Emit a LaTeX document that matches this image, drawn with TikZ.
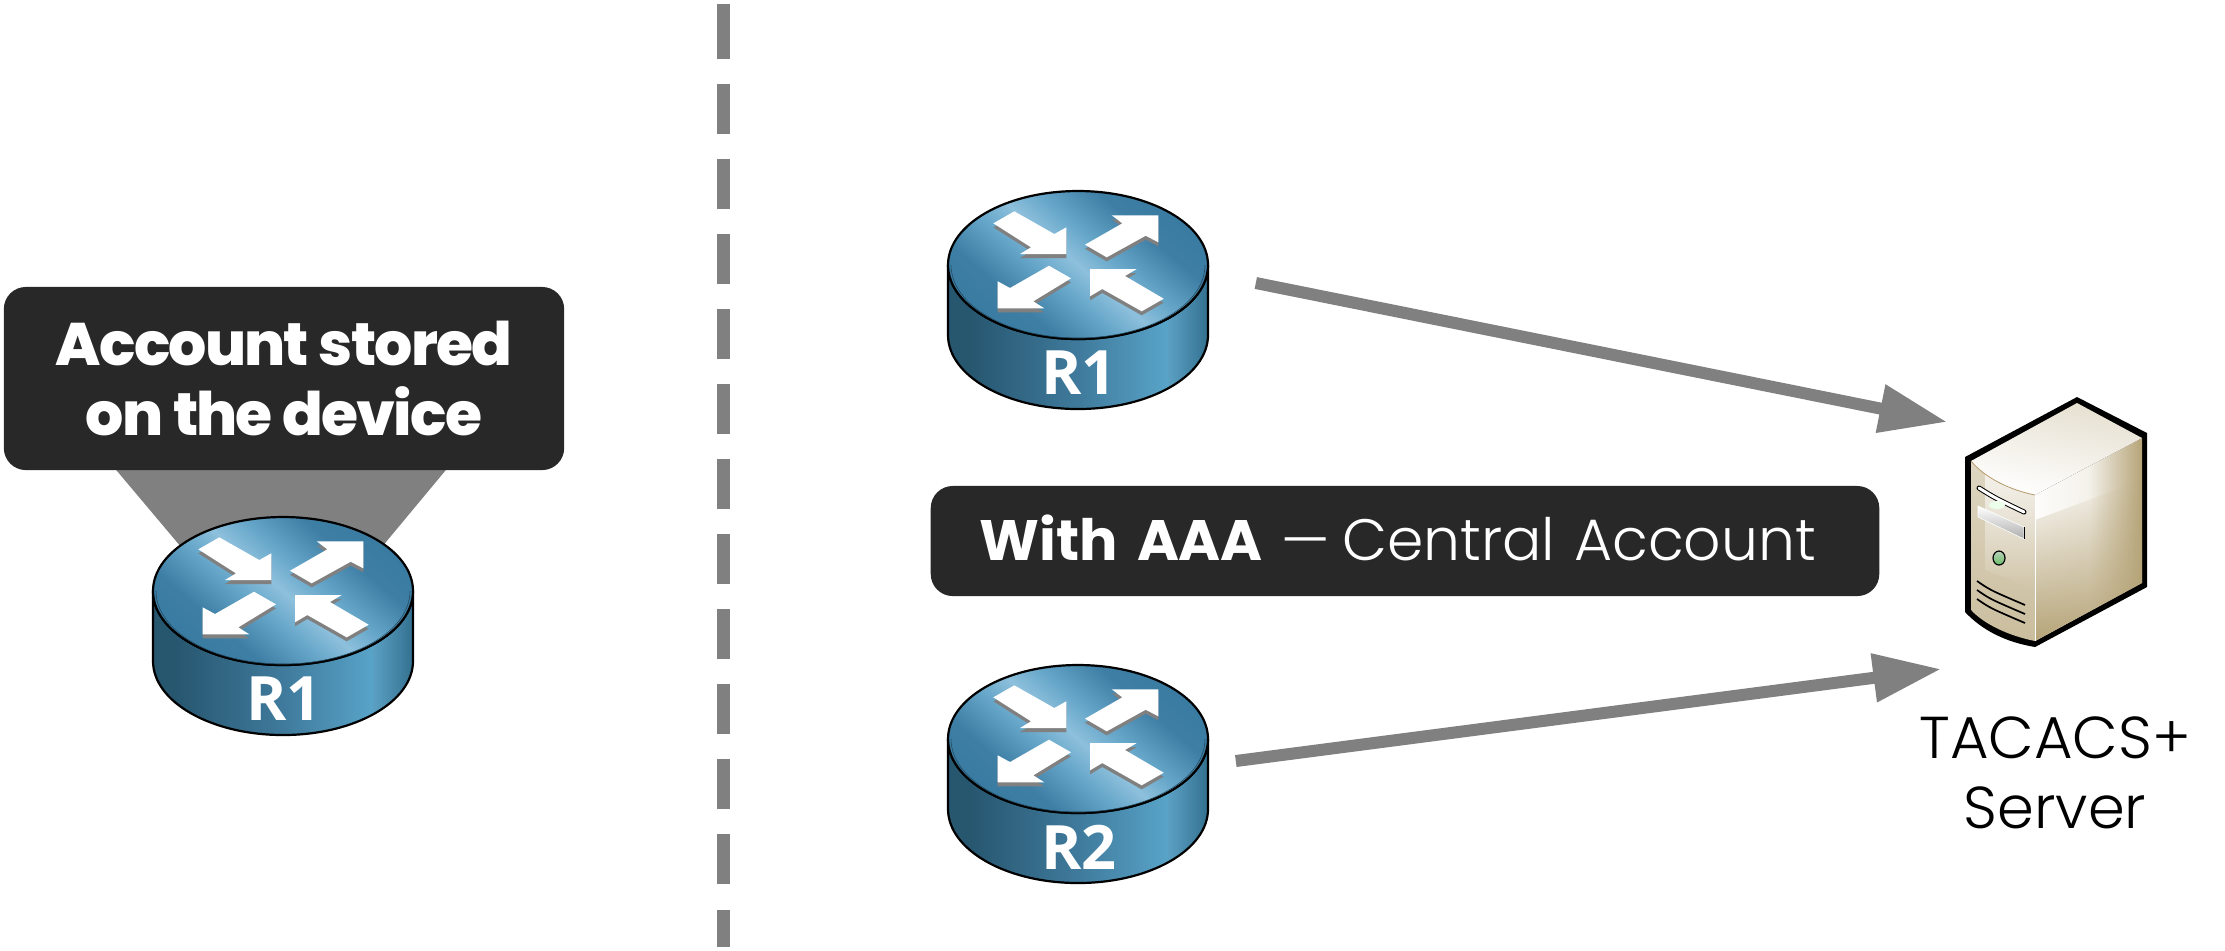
\documentclass[tikz,border=0pt]{standalone}
\usepackage{fontspec}
\setmainfont{Poppins}[UprightFont=* Light,BoldFont=* Bold]
\newfontfamily\labelfont{Open Sans}
\newfontfamily\heavyfont{Poppins ExtraBold}[LetterSpace=-3]
\usetikzlibrary{positioning,calc,arrows.meta,fadings}
\definecolor{boxgray}{HTML}{282828}
\definecolor{flowgray}{HTML}{808080}
\definecolor{rdark}{HTML}{3A7BA2}
\definecolor{rmid}{HTML}{66A6C9}
\definecolor{rlight}{HTML}{8DC0DC}
\definecolor{srvtan}{HTML}{B6A478}
\definecolor{sideA}{HTML}{27566F}
\definecolor{sideB}{HTML}{3F7A9C}
\definecolor{sideC}{HTML}{58A3C8}
\definecolor{sideD}{HTML}{5A9FC2}
\definecolor{sideE}{HTML}{33708F}
\pgfdeclarehorizontalshading{routerside}{100bp}{color(0bp)=(sideA);
  color(29bp)=(sideA); color(50bp)=(sideB); color(67bp)=(sideC); color(67.5bp)=(sideD);
  color(75bp)=(sideE); color(100bp)=(sideE)}
\pgfdeclareverticalshading{routertop}{100bp}{color(0bp)=(rdark);
  color(25bp)=(rdark); color(33bp)=(rdark!95!rlight); color(43bp)=(rmid); color(50bp)=(rlight);
  color(57bp)=(rmid); color(67bp)=(rdark!95!rlight); color(75bp)=(rdark); color(100bp)=(rdark)}

\begin{document}
\begin{tikzpicture}
   [x=0.01cm,y=-0.01cm,
    callout/.style={fill=boxgray,rounded corners=0.22cm,text=white,inner sep=0pt},
    bigtext/.style={font=\heavyfont\fontsize{17.07}{19.9}\selectfont,align=center},
    flow/.style={draw=flowgray,line width=0.12cm,-{Triangle[length=0.68cm,width=0.46cm]}},
    divider/.style={draw=flowgray,line width=0.13cm},
    rlabel/.style={text=white,font=\labelfont\fontsize{17.4}{18}\selectfont\bfseries,inner sep=0pt},
    srvtext/.style={align=center,font=\fontsize{16.8}{19.9}\selectfont,inner sep=0pt},
    pics/router/.style={code={
      \path[shading=routerside,draw=black,line width=0.022cm]
        (-130,0) -- (-130,70) arc[start angle=180,end angle=0,x radius=130,y radius=74] -- (130,0)
        arc[start angle=0,end angle=180,x radius=130,y radius=74] -- cycle;
      \path[shading=routertop,shading angle=-41,draw=black,line width=0.022cm]
        (0,0) ellipse[x radius=130,y radius=74];
      \draw[rdark!60!black,line width=0.006cm] (-127,0) arc[start angle=180,end angle=0,x radius=127,y radius=73];
      \foreach \dy/\col in {4/flowgray,0/white} {
        \begin{scope}[yshift=-\dy*0.01cm]
        \fill[\col] (-84.7,-41.7) -- (-63.7,-53.7) -- (-23.7,-31) -- (-11.7,-37.7) -- (-11.7,-11) -- (-58,-11) -- (-47,-17.7) -- cycle;
        \fill[\col] (7,-20.3) -- (44.3,-41.7) -- (33.7,-49.7) -- (80.3,-49.7) -- (80.3,-22.7) -- (67.7,-29.3) -- (28.7,-7.7) -- cycle;
        \fill[\col] (-29,0.7) -- (-7,13.3) -- (-44.7,36.3) -- (-33.7,43.3) -- (-80.3,43.3) -- (-80.3,16.3) -- (-68,23) -- cycle;
        \fill[\col] (12,4) -- (58.7,4) -- (47,11) -- (85.7,33.7) -- (63.7,46.3) -- (24.3,24) -- (12,31.3) -- cycle;
        \end{scope}
      }
      \node[rlabel] (-label) at (1,108) {#1};
      \node[minimum width=2.6cm,minimum height=2.18cm,inner sep=0pt] (-box) at (0,35) {};
    }}]
\useasboundingbox (0,0) rectangle (2225,950);
\fill[white] (0,0) rectangle (2225,950);

% divider
\draw[divider] (723.5,4) -- (723.5,59);
\draw[divider,dash pattern=on 0.5cm off 0.25cm] (723.5,84) -- (723.5,947);

% left side
\fill[flowgray] (112,465) -- (450,465) -- (371,560) -- (192,560) -- cycle;
\pic (rlocal) at (283,591) {router=R1};
\node[callout,bigtext,minimum width=5.6cm,minimum height=1.83cm] (stored) at (284,378.5)
  {Account stored\\on the device};

% right side
\pic (rone) at (1078,265) {router=R1};
\pic (rtwo) at (1078,739) {router=R2};
\node[callout,inner ysep=0pt,text height=0.74cm,text depth=0.36cm,text width=8.5cm,align=left,
  inner xsep=0.49cm,font=\fontsize{16.2}{18}\selectfont] (central) at (1405,541)
  {\textbf{With AAA} ---\hspace{-0.07cm} {\fontsize{16.6}{18}\selectfont Central Account}};

% server
\node[minimum width=1.82cm,minimum height=2.5cm,inner sep=0pt] (srv) at (2055,522) {};
\fill[black] (2077,397) -- (2147,433) -- (2147,587) -- (2035,647) .. controls (2005,642) and (1982,630) .. (1965,612) -- (1965,457) -- cycle;
\shade[left color=white!97!srvtan,right color=srvtan,middle color=white!85!srvtan] (2035,495) -- (2142,438) -- (2142,583) -- (2035,641) -- cycle;
\fill[srvtan,path fading=north] (2035,520) -- (2142,480) -- (2142,583) -- (2035,641) -- cycle;
\shade[top color=white!55!srvtan,bottom color=srvtan!72!white] (1971,461) .. controls (1985,478) and (2010,490) .. (2035,495) -- (2035,641) .. controls (2010,636) and (1985,625) .. (1971,610) -- cycle;
\fill[white,path fading=south,opacity=.7] (1985,470) -- (2035,495) -- (2035,590) -- (1985,570) -- cycle;
\shade[top color=white!65!srvtan,bottom color=white,shading angle=-12] (1971,461) -- (2077,403) -- (2142,438) -- (2035,495) .. controls (2010,490) and (1985,478) .. (1971,461) -- cycle;
\draw[srvtan!80!brown,line width=0.008cm] (1971,461) .. controls (1985,478) and (2010,490) .. (2035,495);
\draw[white,line width=0.008cm] (2035,495) -- (2035,641);
\draw[black,line width=0.05cm,line cap=round] (1979,488) .. controls (1995,498) .. (2024,512);
\draw[white,line width=0.03cm,line cap=round] (1979,488) .. controls (1995,498) .. (2024,512);
\fill[green!8!white] (1997,505) ellipse[x radius=8,y radius=4];
\shade[top color=white,bottom color=black!32,draw=white,line width=0.006cm] (1978,506) -- (2024,527) -- (2024,539) -- (1978,517) -- cycle;
\draw[black,line width=0.01cm] (2024,527) -- (2024,539);
\shade[top color=green!18!gray!45!white,bottom color=green!40!gray!85!white,draw=black,line width=0.012cm] (1999,558) ellipse[x radius=6,y radius=7];
\foreach \vy in {0,9,18}
  \draw[black,line width=0.017cm] (1977,581+\vy) .. controls (1990,590+\vy) .. (2025,605+\vy);
\node[srvtext,anchor=base] (srvname) at (2055,828) {TACACS+\\Server};

% connectors
\draw[flow] ([shift={(47,-17)}]rone-box.east) -- ([shift={(-16,-100)}]srv.west);
\draw[flow] ([shift={(27,-13)}]rtwo-box.east) -- ([shift={(-22,147)}]srv.west);
\end{tikzpicture}
\end{document}
